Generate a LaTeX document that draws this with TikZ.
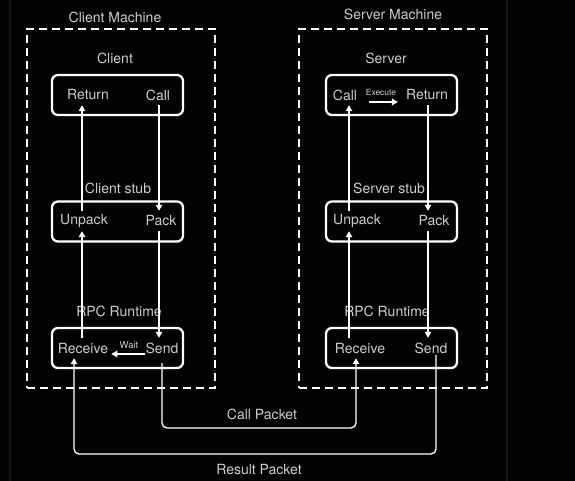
\documentclass[tikz,border=0pt]{standalone}
\usepackage{fontspec}
\setmainfont{TeX Gyre Heros}
\usetikzlibrary{arrows.meta}
\definecolor{bg}{RGB}{3,3,3}
\definecolor{txt}{RGB}{205,205,205}
\definecolor{edgeline}{RGB}{24,24,24}
\begin{document}
\begin{tikzpicture}[x=1pt,y=-1pt,
  lbl/.style={text=txt, font=\fontsize{14}{16}\selectfont, inner sep=0pt, minimum height=20pt},
  small/.style={text=txt, font=\fontsize{8.5}{10}\selectfont, inner sep=0pt},
  machine/.style={draw=white, line width=2.6pt, dash pattern=on 8pt off 5pt, minimum width=188pt, minimum height=359pt, inner sep=0pt},
  box/.style={draw=white, line width=2.3pt, rounded corners=6pt, minimum width=131pt, minimum height=40pt, inner sep=0pt},
  arr/.style={draw=white, line width=1.3pt, -{Triangle[length=6pt,width=6.5pt]}},
  pk/.style={arr, rounded corners=5pt}]

\fill[bg] (0,0) rectangle (575,481);
\useasboundingbox (0,0) rectangle (575,481);
\draw[edgeline, line width=1.5pt] (10,0) -- (10,481);
\draw[edgeline, line width=1.5pt] (507,0) -- (507,481);

% machines
\node[machine] (cmach) at (121,208.5) {};
\node[machine] (smach) at (393,208.5) {};
\node[lbl] (cmachl) at (115,17) {Client Machine};
\node[lbl] (smachl) at (393,14) {Server Machine};

% boxes
\node[box] (cbox) at (117.5,95) {};
\node[box] (cstub) at (117.5,221.5) {};
\node[box] (crpc) at (117.5,348) {};
\node[box] (sbox) at (391.5,95) {};
\node[box] (sstub) at (391.5,221.5) {};
\node[box] (srpc) at (391.5,348) {};

% section labels
\node[lbl] (cboxl) at (115,58) {Client};
\node[lbl] (cstubl) at (118,188) {Client stub};
\node[lbl] (crpcl) at (119,311) {RPC Runtime};
\node[lbl] (sboxl) at (386,58) {Server};
\node[lbl] (sstubl) at (389,188) {Server stub};
\node[lbl] (srpcl) at (387,311) {RPC Runtime};

% client texts
\node[lbl] (cReturn) at (88,95) {Return};
\node[lbl] (cCall) at (158,95) {Call};
\node[lbl] (cUnpack) at (84,221) {Unpack};
\node[lbl] (cPack) at (161,221) {Pack};
\node[lbl] (cReceive) at (83,348) {Receive};
\node[lbl] (cSend) at (162,348) {Send};
\node[small, font=\fontsize{9.5}{11}\selectfont] (wait) at (129,345) {Wait};

% server texts
\node[lbl] (sCall) at (345,95) {Call};
\node[lbl] (sReturn) at (427,95) {Return};
\node[small] (exec) at (381,92) {Execute};
\node[lbl] (sUnpack) at (357,221) {Unpack};
\node[lbl] (sPack) at (434,221) {Pack};
\node[lbl] (sReceive) at (360,348) {Receive};
\node[lbl] (sSend) at (431,348) {Send};

% client arrows
\draw[arr] ([xshift=-2pt]cUnpack.north) -- ([xshift=-2pt]cUnpack.north |- cReturn.south);
\draw[arr] ([xshift=1pt]cCall.south) -- ([xshift=1pt]cCall.south |- cPack.north);
\draw[arr] ([xshift=-1pt]cReceive.north) -- ([xshift=-1pt]cReceive.north |- cUnpack.south);
\draw[arr] ([xshift=-2pt]cPack.south) -- ([xshift=-2pt]cPack.south |- cSend.north);
\draw[arr] ([yshift=-6pt]cSend.west) -- ([xshift=3pt,yshift=-6pt]cSend.west -| cReceive.east);

% server arrows
\draw[arr] ([xshift=-8pt]sUnpack.north) -- ([xshift=-8pt]sUnpack.north |- sCall.south);
\draw[arr] ([xshift=1pt]sReturn.south) -- ([xshift=1pt]sReturn.south |- sPack.north);
\draw[arr] ([xshift=-11pt]sReceive.north) -- ([xshift=-11pt]sReceive.north |- sUnpack.south);
\draw[arr] ([xshift=-6pt]sPack.south) -- ([xshift=-6pt]sPack.south |- sSend.north);
\draw[arr] ([xshift=12pt,yshift=-7pt]sCall.east) -- ([xshift=-8pt,yshift=-7pt]sReturn.west);

% packets
\coordinate (callrow) at (0,428);
\coordinate (resrow) at (0,454);
\draw[pk] ([yshift=-5pt]cSend.south) |- ([xshift=-4pt]sReceive.south |- callrow) -- ([xshift=-4pt]sReceive.south);
\draw[pk] ([xshift=5pt,yshift=3pt]sSend.south) |- ([xshift=-9pt]cReceive.south |- resrow) -- ([xshift=-9pt]cReceive.south);
\node[lbl] (callpk) at (262,414) {Call Packet};
\node[lbl] (respk) at (259,469) {Result Packet};
\end{tikzpicture}
\end{document}
